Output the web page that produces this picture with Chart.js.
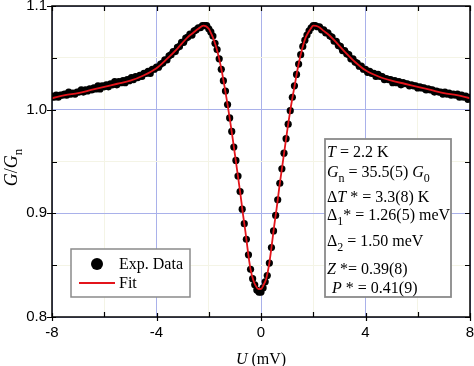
<!DOCTYPE html>
<html>
<head>
<meta charset="utf-8">
<script src="https://cdn.jsdelivr.net/npm/chart.js@4"></script>
<style>
  html, body { margin: 0; padding: 0; background: #fff; }
  #chart { display: block; }
</style>
</head>
<body>
<canvas id="chart" width="474" height="366"></canvas>
<script>
// bias voltage U (mV) of the measured points
const biasExp = [
  -8.00,-7.92,-7.84,-7.76,-7.68,-7.60,-7.52,-7.44,-7.36,-7.28,
  -7.20,-7.12,-7.04,-6.96,-6.88,-6.80,-6.72,-6.64,-6.56,-6.48,
  -6.40,-6.32,-6.24,-6.16,-6.08,-6.00,-5.92,-5.84,-5.76,-5.68,
  -5.60,-5.52,-5.44,-5.36,-5.28,-5.20,-5.12,-5.04,-4.96,-4.88,
  -4.80,-4.72,-4.64,-4.56,-4.48,-4.40,-4.32,-4.24,-4.16,-4.08,
  -4.00,-3.92,-3.84,-3.76,-3.68,-3.60,-3.52,-3.44,-3.36,-3.28,
  -3.20,-3.12,-3.04,-2.96,-2.88,-2.80,-2.72,-2.64,-2.56,-2.48,
  -2.40,-2.32,-2.24,-2.16,-2.08,-2.00,-1.92,-1.84,-1.76,-1.68,
  -1.60,-1.52,-1.44,-1.36,-1.28,-1.20,-1.12,-1.04,-0.96,-0.88,
  -0.80,-0.72,-0.64,-0.56,-0.48,-0.40,-0.32,-0.24,-0.16,-0.08,
   0.00, 0.08, 0.16, 0.24, 0.32, 0.40, 0.48, 0.56, 0.64, 0.72,
   0.80, 0.88, 0.96, 1.04, 1.12, 1.20, 1.28, 1.36, 1.44, 1.52,
   1.60, 1.68, 1.76, 1.84, 1.92, 2.00, 2.08, 2.16, 2.24, 2.32,
   2.40, 2.48, 2.56, 2.64, 2.72, 2.80, 2.88, 2.96, 3.04, 3.12,
   3.20, 3.28, 3.36, 3.44, 3.52, 3.60, 3.68, 3.76, 3.84, 3.92,
   4.00, 4.08, 4.16, 4.24, 4.32, 4.40, 4.48, 4.56, 4.64, 4.72,
   4.80, 4.88, 4.96, 5.04, 5.12, 5.20, 5.28, 5.36, 5.44, 5.52,
   5.60, 5.68, 5.76, 5.84, 5.92, 6.00, 6.08, 6.16, 6.24, 6.32,
   6.40, 6.48, 6.56, 6.64, 6.72, 6.80, 6.88, 6.96, 7.04, 7.12,
   7.20, 7.28, 7.36, 7.44, 7.52, 7.60, 7.68, 7.76, 7.84, 7.92,
   8.00
];
// measured G/Gn
const gExp = [
  1.013,1.012,1.014,1.012,1.014,1.014,1.015,1.014,1.017,1.015,
  1.016,1.015,1.017,1.017,1.019,1.017,1.019,1.018,1.020,1.019,
  1.021,1.020,1.023,1.020,1.023,1.022,1.024,1.022,1.025,1.024,
  1.027,1.024,1.027,1.026,1.028,1.026,1.029,1.028,1.031,1.029,
  1.032,1.031,1.033,1.032,1.035,1.035,1.037,1.035,1.039,1.039,
  1.041,1.041,1.044,1.045,1.048,1.048,1.052,1.053,1.056,1.056,
  1.060,1.061,1.065,1.065,1.069,1.070,1.073,1.072,1.076,1.077,
  1.079,1.079,1.081,1.081,1.081,1.078,1.075,1.071,1.064,1.058,
  1.049,1.039,1.028,1.018,1.005,0.992,0.979,0.964,0.951,0.936,
  0.921,0.904,0.890,0.875,0.860,0.846,0.837,0.831,0.826,0.824,
  0.824,0.828,0.834,0.840,0.852,0.867,0.883,0.898,0.913,0.929,
  0.943,0.958,0.972,0.986,0.999,1.012,1.023,1.034,1.044,1.053,
  1.061,1.067,1.072,1.076,1.079,1.081,1.081,1.080,1.080,1.077,
  1.077,1.074,1.074,1.071,1.070,1.066,1.066,1.062,1.061,1.057,
  1.057,1.054,1.053,1.049,1.049,1.046,1.045,1.042,1.042,1.039,
  1.039,1.036,1.037,1.035,1.035,1.032,1.034,1.032,1.032,1.029,
  1.030,1.029,1.029,1.026,1.028,1.026,1.027,1.024,1.026,1.025,
  1.025,1.023,1.024,1.023,1.023,1.021,1.022,1.021,1.021,1.019,
  1.020,1.019,1.019,1.017,1.018,1.017,1.017,1.015,1.017,1.015,
  1.016,1.014,1.015,1.014,1.015,1.012,1.014,1.012,1.013,1.010,
  1.012
];
// fit curve
const biasFit = [
  -8,-7.5,-7,-6.5,-6,-5.5,-5,-4.5,-4,-3.6,-3.2,-2.8,-2.6,-2.4,-2.2,
  -2.0,-1.9,-1.8,-1.7,-1.6,-1.5,-1.4,-1.3,-1.2,-1.1,-1.0,-0.9,-0.8,-0.7,-0.6,-0.5,
  -0.4,-0.3,-0.2,-0.1,0,0.1,0.2,0.3,0.4,0.5,0.6,0.7,0.8,0.9,1.0,
  1.1,1.2,1.3,1.4,1.5,1.6,1.7,1.8,1.9,2.0,
  2.2,2.4,2.6,2.8,3.2,3.6,4.0,4.5,5.0,5.5,6.0,6.5,7.0,7.5,8.0
];
const gFit = [
  1.011,1.014,1.016,1.019,1.022,1.025,1.028,1.033,1.040,1.049,1.059,1.070,1.074,1.078,1.081,
  1.078,1.073,1.067,1.059,1.049,1.037,1.023,1.008,0.992,0.975,0.957,0.939,0.921,0.901,0.883,0.863,
  0.846,0.836,0.830,0.827,0.827,0.831,0.837,0.849,0.867,0.887,0.905,0.925,0.943,0.961,0.979,
  0.996,1.011,1.025,1.039,1.051,1.061,1.069,1.074,1.078,1.081,
  1.080,1.076,1.072,1.067,1.056,1.046,1.038,1.032,1.028,1.025,1.022,1.019,1.016,1.014,1.011
];

const xTickLabels = ['-8', '-4', '0', '4', '8'];
const yTickLabels = ['0.8', '0.9', '1.0', '1.1'];
const seriesNames = ['Exp. Data', 'Fit'];

const SERIF = '"Liberation Serif", "Times New Roman", serif';
const SANS = '"Liberation Sans", Arial, sans-serif';
const MAJOR_GRID = '#a9b1ea';
const MINOR_GRID = '#f4f4e6';

function labelFor(list, v) {
    const hit = list.find(l => Math.abs(Number(l) - v) < 1e-6);
    return hit === undefined ? null : hit;
}

// text with italic / subscript pieces
function drawRich(ctx, parts, x, y, size) {
    let cx = x;
    parts.forEach(([txt, st]) => {
        const sub = st === 's';
        const fs = sub ? Math.round(size * 0.72) : size;
        ctx.font = (st === 'i' ? 'italic ' : '') + fs + 'px ' + SERIF;
        ctx.fillText(txt, cx, y + (sub ? size * 0.3 : 0));
        cx += ctx.measureText(txt).width;
    });
    return cx - x;
}
function richWidth(ctx, parts, size) {
    let w = 0;
    parts.forEach(([txt, st]) => {
        const fs = st === 's' ? Math.round(size * 0.72) : size;
        ctx.font = (st === 'i' ? 'italic ' : '') + fs + 'px ' + SERIF;
        w += ctx.measureText(txt).width;
    });
    return w;
}

const params = [
    [[['T', 'i'], [' = 2.2 K', 'r']], 151, 0],
    [[['G', 'i'], ['n', 's'], [' = 35.5(5) ', 'r'], ['G', 'i'], ['0', 's']], 171, 0],
    [[['\u0394', 'r'], ['T', 'i'], [' * = 3.3(8) K', 'r']], 196, 0],
    [[['\u0394', 'r'], ['1', 's'], ['* = 1.26(5) meV', 'r']], 214, 0],
    [[['\u0394', 'r'], ['2', 's'], [' = 1.50 meV', 'r']], 240, 0],
    [[['Z', 'i'], [' *= 0.39(8)', 'r']], 268, 0],
    [[['P', 'i'], [' * = 0.41(9)', 'r']], 287, 5]
];

const decorPlugin = {
    id: 'decor',
    afterDraw(chart) {
        const { ctx, chartArea: a, scales: { x, y } } = chart;
        ctx.save();

        // ticks
        ctx.strokeStyle = '#000';
        ctx.lineWidth = 1.2;
        ctx.beginPath();
        y.ticks.forEach(t => {
            const py = Math.round(y.getPixelForValue(t.value)) + 0.5;
            if (labelFor(yTickLabels, t.value) !== null) {
                ctx.moveTo(a.left - 5, py); ctx.lineTo(a.left + 4, py);
            } else {
                ctx.moveTo(a.left, py); ctx.lineTo(a.left + 5, py);
            }
            ctx.moveTo(a.right - 5, py); ctx.lineTo(a.right, py);
        });
        x.ticks.forEach(t => {
            const px = Math.round(x.getPixelForValue(t.value)) + 0.5;
            if (labelFor(xTickLabels, t.value) !== null) {
                ctx.moveTo(px, a.bottom + 4); ctx.lineTo(px, a.bottom - 4);
            } else {
                ctx.moveTo(px, a.bottom); ctx.lineTo(px, a.bottom - 5);
            }
            ctx.moveTo(px, a.top); ctx.lineTo(px, a.top + 5);
        });
        ctx.stroke();

        // frame
        ctx.lineWidth = 1.5;
        ctx.strokeRect(a.left, a.top, a.right - a.left, a.bottom - a.top);

        // axis titles
        ctx.fillStyle = '#000';
        ctx.textBaseline = 'alphabetic';
        ctx.textAlign = 'left';
        const xt = [['U', 'i'], [' (mV)', 'r']];
        const xw = richWidth(ctx, xt, 16);
        drawRich(ctx, xt, (a.left + a.right) / 2 - xw / 2, 364, 16);

        const yt = [['G', 'i'], ['/', 'r'], ['G', 'i'], ['n', 's']];
        const yw = richWidth(ctx, yt, 18);
        ctx.save();
        ctx.translate(17, (a.top + a.bottom) / 2 + 6);
        ctx.rotate(-Math.PI / 2);
        drawRich(ctx, yt, -yw / 2, 0, 18);
        ctx.restore();

        // legend box
        const lx = a.left + 19, ly = 249;
        ctx.fillStyle = '#fff';
        ctx.fillRect(lx, ly, 119, 48);
        ctx.strokeStyle = '#8a8a8a';
        ctx.lineWidth = 1.5;
        ctx.strokeRect(lx, ly, 119, 48);
        const ds = chart.data.datasets;
        ctx.fillStyle = ds[1].backgroundColor;
        ctx.beginPath();
        ctx.arc(lx + 26, ly + 15, 6, 0, Math.PI * 2);
        ctx.fill();
        ctx.strokeStyle = ds[0].borderColor;
        ctx.lineWidth = 1.8;
        ctx.beginPath();
        ctx.moveTo(lx + 8, ly + 34); ctx.lineTo(lx + 44, ly + 34);
        ctx.stroke();
        ctx.fillStyle = '#000';
        ctx.font = '16px ' + SERIF;
        ctx.fillText(ds[1].label, lx + 48, ly + 20);
        ctx.fillText(ds[0].label, lx + 48, ly + 39);

        // parameter box
        const bx = 325, by = 139, bw = 126, bh = 158;
        ctx.fillStyle = '#fff';
        ctx.fillRect(bx, by, bw, bh);
        ctx.strokeStyle = '#8a8a8a';
        ctx.strokeRect(bx, by, bw, bh);
        ctx.fillStyle = '#000';
        params.forEach(([parts, base, dx]) => {
            drawRich(ctx, parts, bx + 2 + dx, base + 6, 16);
        });

        ctx.restore();
    }
};

const ctx = document.getElementById('chart').getContext('2d');
new Chart(ctx, {
    type: 'scatter',
    data: {
        datasets: [
            {
                label: seriesNames[1],
                type: 'line',
                data: biasFit.map((u, i) => ({ x: u, y: gFit[i] })),
                borderColor: '#e3141b',
                borderWidth: 1.8,
                pointRadius: 0,
                fill: false,
                cubicInterpolationMode: 'monotone',
                clip: 0,
                order: 0
            },
            {
                label: seriesNames[0],
                data: biasExp.map((u, i) => ({ x: u, y: gExp[i] })),
                backgroundColor: '#000',
                borderColor: '#000',
                borderWidth: 0,
                pointRadius: 3.6,
                clip: 0,
                order: 1
            }
        ]
    },
    options: {
        responsive: false,
        animation: false,
        devicePixelRatio: 1,
        layout: { padding: { top: 6, right: 4, left: 0, bottom: 0 } },
        plugins: {
            legend: { display: false },
            tooltip: { enabled: false }
        },
        scales: {
            x: {
                type: 'linear',
                min: -8,
                max: 8,
                afterFit: s => { s.height = 49; s.paddingLeft = 0; s.paddingRight = 0; },
                border: { display: false },
                grid: {
                    drawTicks: false,
                    lineWidth: 1,
                    color: c => labelFor(xTickLabels, c.tick.value) !== null ? MAJOR_GRID : MINOR_GRID
                },
                ticks: {
                    stepSize: 2,
                    autoSkip: false,
                    maxRotation: 0,
                    padding: 7,
                    color: '#000',
                    font: { family: SANS, size: 15 },
                    callback: v => labelFor(xTickLabels, v) || ''
                }
            },
            y: {
                type: 'linear',
                min: 0.8,
                max: 1.1,
                afterFit: s => { s.width = 52; s.paddingTop = 0; s.paddingBottom = 0; },
                border: { display: false },
                grid: {
                    drawTicks: false,
                    lineWidth: 1,
                    color: c => labelFor(yTickLabels, c.tick.value) !== null ? MAJOR_GRID : MINOR_GRID
                },
                ticks: {
                    stepSize: 0.05,
                    autoSkip: false,
                    padding: 5,
                    color: '#000',
                    font: { family: SANS, size: 15 },
                    callback: v => labelFor(yTickLabels, v) || ''
                }
            }
        }
    },
    plugins: [decorPlugin]
});
</script>
</body>
</html>
